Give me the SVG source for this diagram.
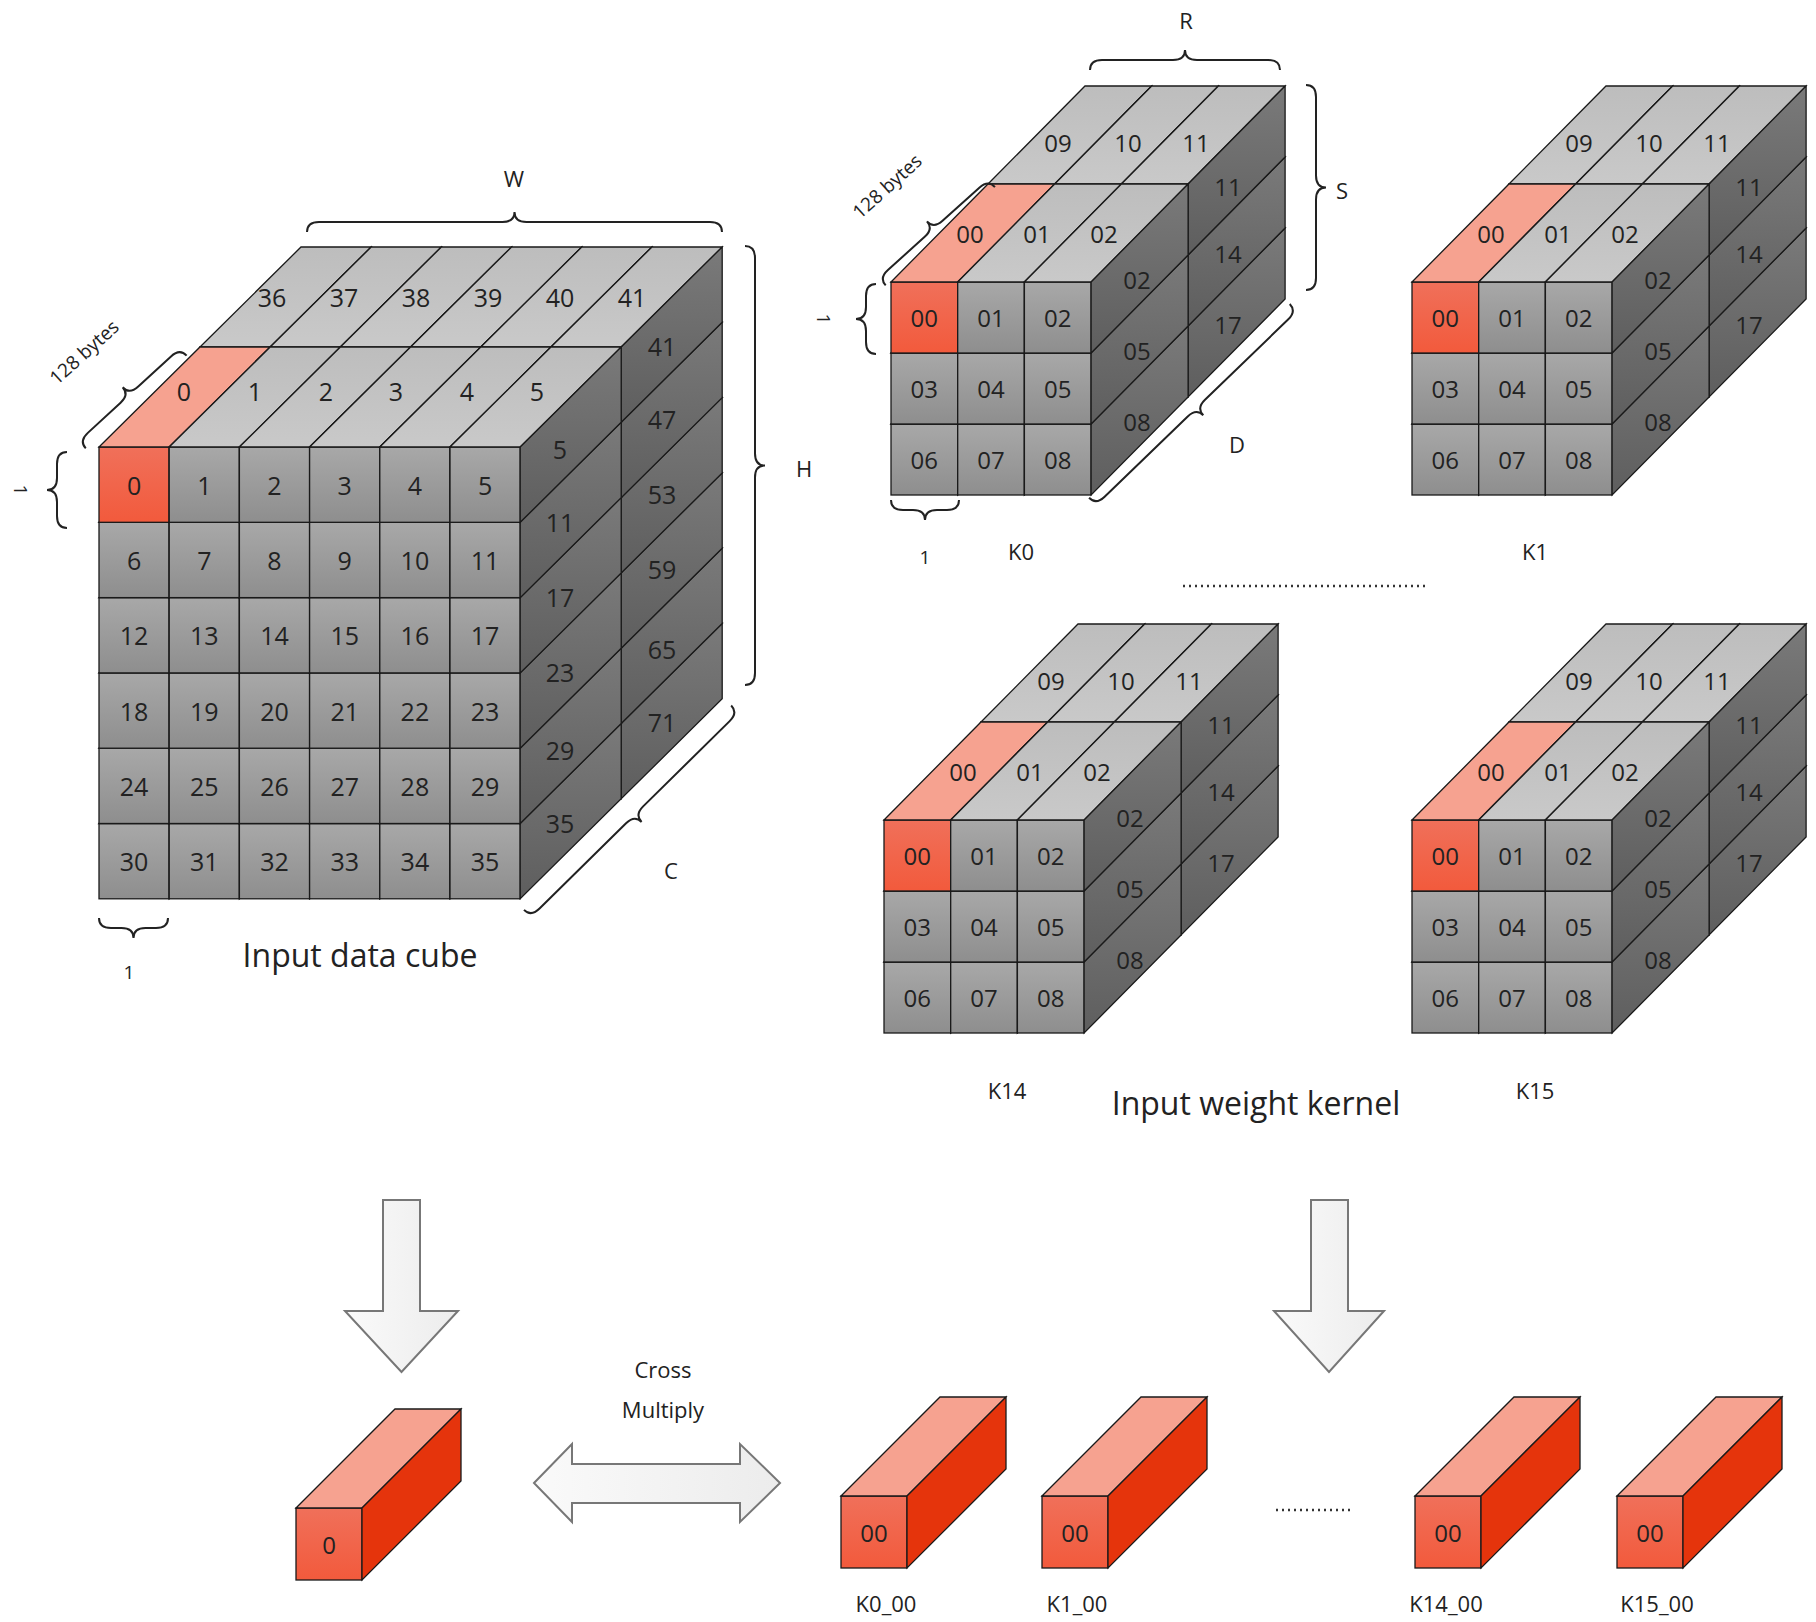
<svg xmlns="http://www.w3.org/2000/svg" width="1816" height="1622" viewBox="0 0 1816 1622">
<style>
.f{fill:url(#gf);stroke:#1a1a1a;stroke-width:1.3}
.t{fill:url(#gt);stroke:#1a1a1a;stroke-width:1.3}
.s{fill:url(#gs);stroke:#1a1a1a;stroke-width:1.3}
.rf{fill:url(#grf);stroke:#1a1a1a;stroke-width:1.3}
.rt{fill:#f6a290;stroke:#1a1a1a;stroke-width:1.3}
.rs{fill:#e5340c;stroke:#1a1a1a;stroke-width:1.3}
text{font-family:"Open Sans","Liberation Sans",sans-serif;fill:#222;text-anchor:middle;dominant-baseline:central}
.n{font-size:25px}
.m{font-size:24px}
.lb{font-size:22px}
.sm{font-size:19px}
.big{font-size:32px}
.br{fill:none;stroke:#222;stroke-width:2}
.ar{fill:url(#ga);stroke:#777;stroke-width:2}
.dot{stroke:#333;stroke-width:2.5;stroke-dasharray:2 4}
</style>
<defs>
<linearGradient id="gf" x1="0" y1="0" x2="0" y2="1"><stop offset="0" stop-color="#a8a8a8"/><stop offset="1" stop-color="#8e8e8e"/></linearGradient>
<linearGradient id="gt" x1="0" y1="0" x2="0" y2="1"><stop offset="0" stop-color="#bdbdbd"/><stop offset="1" stop-color="#c9c9c9"/></linearGradient>
<linearGradient id="gs" x1="0" y1="0" x2="0" y2="1"><stop offset="0" stop-color="#7a7a7a"/><stop offset="1" stop-color="#5e5e5e"/></linearGradient>
<linearGradient id="grf" x1="0" y1="0" x2="0" y2="1"><stop offset="0" stop-color="#f0705a"/><stop offset="1" stop-color="#f25a3c"/></linearGradient>
<linearGradient id="ga" x1="0" y1="0" x2="1" y2="0"><stop offset="0" stop-color="#fafafa"/><stop offset="1" stop-color="#ececec"/></linearGradient>
<g id="cb"><rect class="f" width="70.2" height="75.3"/><polygon class="t" points="0,0 101,-100 171.2,-100 70.2,0"/><polygon class="s" points="70.2,0 171.2,-100 171.2,-24.7 70.2,75.3"/></g>
<g id="cbr"><rect class="rf" width="70.2" height="75.3"/><polygon class="rt" points="0,0 101,-100 171.2,-100 70.2,0"/><polygon class="s" points="70.2,0 171.2,-100 171.2,-24.7 70.2,75.3"/></g>
<g id="kb"><rect class="f" width="66.7" height="71"/><polygon class="t" points="0,0 97,-98 163.7,-98 66.7,0"/><polygon class="s" points="66.7,0 163.7,-98 163.7,-27 66.7,71"/></g>
<g id="kbr"><rect class="rf" width="66.7" height="71"/><polygon class="rt" points="0,0 97,-98 163.7,-98 66.7,0"/><polygon class="s" points="66.7,0 163.7,-98 163.7,-27 66.7,71"/></g>
<g id="bar"><rect class="rf" width="66" height="72"/><polygon class="rt" points="0,0 99,-99 165,-99 66,0"/><polygon class="rs" points="66,0 165,-99 165,-27 66,72"/></g>
<g id="kern">
<use href="#kb" x="1121.4" y="326"/><use href="#kb" x="1121.4" y="255"/>
<use href="#kb" x="988" y="184"/><use href="#kb" x="1054.7" y="184"/><use href="#kb" x="1121.4" y="184"/>
<use href="#kb" x="891" y="424"/><use href="#kb" x="957.7" y="424"/><use href="#kb" x="1024.4" y="424"/>
<use href="#kb" x="891" y="353"/><use href="#kb" x="957.7" y="353"/><use href="#kb" x="1024.4" y="353"/>
<use href="#kbr" x="891" y="282"/><use href="#kb" x="957.7" y="282"/><use href="#kb" x="1024.4" y="282"/>
<g class="m">
<text x="924.3" y="317.5">00</text><text x="991" y="317.5">01</text><text x="1057.7" y="317.5">02</text>
<text x="924.3" y="388.5">03</text><text x="991" y="388.5">04</text><text x="1057.7" y="388.5">05</text>
<text x="924.3" y="459.5">06</text><text x="991" y="459.5">07</text><text x="1057.7" y="459.5">08</text>
<text x="970" y="233">00</text><text x="1037" y="233">01</text><text x="1104" y="233">02</text>
<text x="1137" y="279">02</text><text x="1137" y="350">05</text><text x="1137" y="421">08</text>
<text x="1058" y="142">09</text><text x="1128" y="142">10</text><text x="1196" y="142">11</text>
<text x="1228" y="186">11</text><text x="1228" y="253">14</text><text x="1228" y="324">17</text>
</g>
</g>
</defs>
<rect width="1816" height="1622" fill="#fff"/>

<g id="input-cube">
<use href="#cb" x="551" y="723.5"/><use href="#cb" x="551" y="648.2"/><use href="#cb" x="551" y="572.9"/><use href="#cb" x="551" y="497.6"/><use href="#cb" x="551" y="422.3"/>
<use href="#cb" x="200" y="347"/><use href="#cb" x="270.2" y="347"/><use href="#cb" x="340.4" y="347"/><use href="#cb" x="410.6" y="347"/><use href="#cb" x="480.8" y="347"/><use href="#cb" x="551" y="347"/>
<g transform="translate(0,823.5)"><use href="#cb" x="99"/><use href="#cb" x="169.2"/><use href="#cb" x="239.4"/><use href="#cb" x="309.6"/><use href="#cb" x="379.8"/><use href="#cb" x="450"/></g>
<g transform="translate(0,748.2)"><use href="#cb" x="99"/><use href="#cb" x="169.2"/><use href="#cb" x="239.4"/><use href="#cb" x="309.6"/><use href="#cb" x="379.8"/><use href="#cb" x="450"/></g>
<g transform="translate(0,672.9)"><use href="#cb" x="99"/><use href="#cb" x="169.2"/><use href="#cb" x="239.4"/><use href="#cb" x="309.6"/><use href="#cb" x="379.8"/><use href="#cb" x="450"/></g>
<g transform="translate(0,597.6)"><use href="#cb" x="99"/><use href="#cb" x="169.2"/><use href="#cb" x="239.4"/><use href="#cb" x="309.6"/><use href="#cb" x="379.8"/><use href="#cb" x="450"/></g>
<g transform="translate(0,522.3)"><use href="#cb" x="99"/><use href="#cb" x="169.2"/><use href="#cb" x="239.4"/><use href="#cb" x="309.6"/><use href="#cb" x="379.8"/><use href="#cb" x="450"/></g>
<g transform="translate(0,447)"><use href="#cbr" x="99"/><use href="#cb" x="169.2"/><use href="#cb" x="239.4"/><use href="#cb" x="309.6"/><use href="#cb" x="379.8"/><use href="#cb" x="450"/></g>
<g class="n">
<text x="134.1" y="484.6">0</text><text x="204.3" y="484.6">1</text><text x="274.5" y="484.6">2</text><text x="344.7" y="484.6">3</text><text x="414.9" y="484.6">4</text><text x="485.1" y="484.6">5</text>
<text x="134.1" y="559.9">6</text><text x="204.3" y="559.9">7</text><text x="274.5" y="559.9">8</text><text x="344.7" y="559.9">9</text><text x="414.9" y="559.9">10</text><text x="485.1" y="559.9">11</text>
<text x="134.1" y="635.2">12</text><text x="204.3" y="635.2">13</text><text x="274.5" y="635.2">14</text><text x="344.7" y="635.2">15</text><text x="414.9" y="635.2">16</text><text x="485.1" y="635.2">17</text>
<text x="134.1" y="710.5">18</text><text x="204.3" y="710.5">19</text><text x="274.5" y="710.5">20</text><text x="344.7" y="710.5">21</text><text x="414.9" y="710.5">22</text><text x="485.1" y="710.5">23</text>
<text x="134.1" y="785.8">24</text><text x="204.3" y="785.8">25</text><text x="274.5" y="785.8">26</text><text x="344.7" y="785.8">27</text><text x="414.9" y="785.8">28</text><text x="485.1" y="785.8">29</text>
<text x="134.1" y="861.1">30</text><text x="204.3" y="861.1">31</text><text x="274.5" y="861.1">32</text><text x="344.7" y="861.1">33</text><text x="414.9" y="861.1">34</text><text x="485.1" y="861.1">35</text>
<text x="184" y="391">0</text><text x="255" y="391">1</text><text x="326" y="391">2</text><text x="396" y="391">3</text><text x="467" y="391">4</text><text x="537" y="391">5</text>
<text x="560" y="449">5</text><text x="560" y="522">11</text><text x="560" y="597">17</text><text x="560" y="672">23</text><text x="560" y="750">29</text><text x="560" y="823">35</text>
<text x="272" y="297">36</text><text x="344" y="297">37</text><text x="416" y="297">38</text><text x="488" y="297">39</text><text x="560" y="297">40</text><text x="632" y="297">41</text>
<text x="662" y="346">41</text><text x="662" y="419">47</text><text x="662" y="494">53</text><text x="662" y="569">59</text><text x="662" y="649">65</text><text x="662" y="722">71</text>
</g>
<path class="br" transform="translate(307,222)" d="M0,10 Q0,0 12,0 L195.5,0 Q207.5,0 207.5,-10 Q207.5,0 219.5,0 L403,0 Q415,0 415,10"/>
<text class="lb" x="514" y="178">W</text>
<path class="br" transform="translate(755,246) rotate(90)" d="M0,10 Q0,0 12,0 L207.5,0 Q219.5,0 219.5,-10 Q219.5,0 231.5,0 L427,0 Q439,0 439,10"/>
<text class="lb" x="804" y="468">H</text>
<path class="br" transform="translate(531,917) rotate(-44.6) scale(1,-1)" d="M0,10 Q0,0 12,0 L133.5,0 Q145.5,0 145.5,-10 Q145.5,0 157.5,0 L279,0 Q291,0 291,10"/>
<text class="lb" x="671" y="870">C</text>
<path class="br" transform="translate(99,928) scale(1,-1)" d="M0,10 Q0,0 12,0 L22.5,0 Q34.5,0 34.5,-10 Q34.5,0 46.5,0 L57,0 Q69,0 69,10"/>
<text class="sm" x="129" y="972">1</text>
<path class="br" transform="translate(57,528) rotate(-90)" d="M0,10 Q0,0 12,0 L26,0 Q38,0 38,-10 Q38,0 50,0 L64,0 Q76,0 76,10"/>
<text class="sm" transform="translate(21,490) rotate(90)">1</text>
<path class="br" transform="translate(79,441) rotate(-42.6)" d="M0,10 Q0,0 12,0 L56.5,0 Q68.5,0 68.5,-10 Q68.5,0 80.5,0 L125,0 Q137,0 137,10"/>
<text class="sm" transform="translate(84,352) rotate(-42)">128 bytes</text>
<text class="big" x="360" y="954">Input data cube</text>
</g>

<g id="k0">
<use href="#kern"/>
<path class="br" transform="translate(1090,60)" d="M0,10 Q0,0 12,0 L83,0 Q95,0 95,-10 Q95,0 107,0 L178,0 Q190,0 190,10"/>
<text class="lb" x="1186" y="20">R</text>
<path class="br" transform="translate(1316,85) rotate(90)" d="M0,10 Q0,0 12,0 L90.5,0 Q102.5,0 102.5,-10 Q102.5,0 114.5,0 L193,0 Q205,0 205,10"/>
<text class="lb" x="1342" y="190">S</text>
<path class="br" transform="translate(1096,505) rotate(-44) scale(1,-1)" d="M0,10 Q0,0 12,0 L127.5,0 Q139.5,0 139.5,-10 Q139.5,0 151.5,0 L267,0 Q279,0 279,10"/>
<text class="lb" x="1237" y="444">D</text>
<path class="br" transform="translate(891,510) scale(1,-1)" d="M0,10 Q0,0 12,0 L22,0 Q34,0 34,-10 Q34,0 46,0 L56,0 Q68,0 68,10"/>
<text class="sm" x="925" y="557">1</text>
<path class="br" transform="translate(866,354) rotate(-90)" d="M0,10 Q0,0 12,0 L23,0 Q35,0 35,-10 Q35,0 47,0 L58,0 Q70,0 70,10"/>
<text class="sm" transform="translate(824,319) rotate(90)">1</text>
<path class="br" transform="translate(879,278) rotate(-42)" d="M0,10 Q0,0 12,0 L61.5,0 Q73.5,0 73.5,-10 Q73.5,0 85.5,0 L135,0 Q147,0 147,10"/>
<text class="sm" transform="translate(887,186) rotate(-42)">128 bytes</text>
<text class="lb" x="1021" y="551">K0</text>
</g>
<g id="k1"><use href="#kern" transform="translate(521,0)"/><text class="lb" x="1535" y="551">K1</text></g>
<g id="k14"><use href="#kern" transform="translate(-7,538)"/><text class="lb" x="1007" y="1090">K14</text></g>
<g id="k15"><use href="#kern" transform="translate(521,538)"/><text class="lb" x="1535" y="1090">K15</text></g>
<line class="dot" x1="1183" y1="586" x2="1427" y2="586"/>
<text class="big" x="1256" y="1102">Input weight kernel</text>

<g id="connectors">
<polygon class="ar" points="383,1200 420,1200 420,1311 458,1311 401.5,1372 345,1311 383,1311"/>
<polygon class="ar" points="1311,1200 1348,1200 1348,1311 1384,1311 1329,1372 1274,1311 1311,1311"/>
<polygon class="ar" points="534,1483 572,1444 572,1464 740,1464 740,1444 780,1483 740,1522 740,1503 572,1503 572,1522"/>
</g>
<text class="lb" x="663" y="1369">Cross</text>
<text class="lb" x="663" y="1409">Multiply</text>

<g id="bar0"><use href="#bar" x="296" y="1508"/><text class="m" x="329" y="1544">0</text></g>
<g id="bk0"><use href="#bar" x="841" y="1496"/><text class="m" x="874" y="1532">00</text><text class="lb" x="886" y="1603">K0_00</text></g>
<g id="bk1"><use href="#bar" x="1042" y="1496"/><text class="m" x="1075" y="1532">00</text><text class="lb" x="1077" y="1603">K1_00</text></g>
<g id="bk14"><use href="#bar" x="1415" y="1496"/><text class="m" x="1448" y="1532">00</text><text class="lb" x="1446" y="1603">K14_00</text></g>
<g id="bk15"><use href="#bar" x="1617" y="1496"/><text class="m" x="1650" y="1532">00</text><text class="lb" x="1657" y="1603">K15_00</text></g>
<line class="dot" x1="1276" y1="1510" x2="1351" y2="1510"/>
</svg>
